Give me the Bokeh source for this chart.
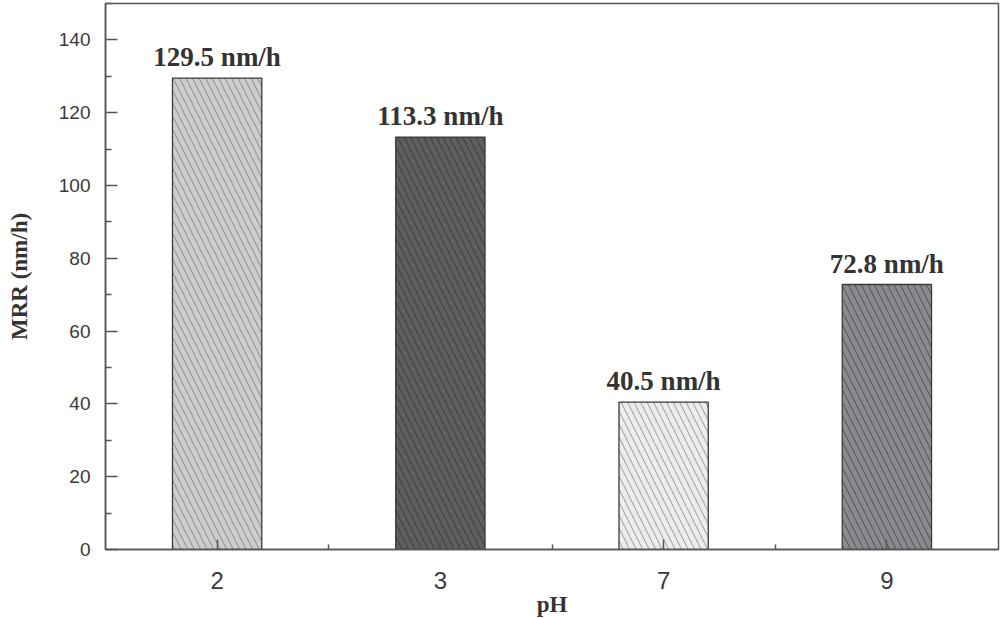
from bokeh.plotting import figure
from bokeh.models import ColumnDataSource, FixedTicker, Range1d
from bokeh.core.properties import value
from bokeh.embed import file_html
from bokeh.resources import INLINE

categories = ["2", "3", "7", "9"]
mrr = [129.5, 113.3, 40.5, 72.8]
labels = ["129.5 nm/h", "113.3 nm/h", "40.5 nm/h", "72.8 nm/h"]
fill_colors = ["#cdcdcd", "#5e5e5e", "#ececec", "#8b8b8f"]
hatch_colors = ["#8a8a8a", "#3c3c3c", "#9a9a9a", "#505050"]
y_ticks = [0, 20, 40, 60, 80, 100, 120, 140]

xpos = list(range(1, len(categories) + 1))
src = ColumnDataSource(dict(x=xpos, top=mrr, label=labels, fill=fill_colors, hatch=hatch_colors))

p = figure(frame_width=893, frame_height=546, output_backend="svg", toolbar_location=None,
           x_range=Range1d(0.5, len(categories) + 0.5), y_range=Range1d(0, 150),
           min_border_left=105, min_border_right=2, min_border_top=3, min_border_bottom=66)

p.vbar(x="x", top="top", width=0.4, bottom=0, source=src, fill_color="fill",
       line_color="#3a3a3a", line_width=1.3, hatch_pattern="\\", hatch_color="hatch",
       hatch_scale=13, hatch_weight=1)

p.text(x="x", y="top", text="label", source=src, text_align="center", text_baseline="bottom",
       y_offset=-6, text_font=value("Liberation Serif"), text_font_style="bold",
       text_font_size="27px", text_color="#333333")

p.xgrid.visible = False
p.ygrid.visible = False
p.outline_line_color = "#555555"
p.outline_line_width = 1.5

p.xaxis.ticker = FixedTicker(ticks=xpos, minor_ticks=[i + 0.5 for i in xpos[:-1]])
p.xaxis.major_label_overrides = {x: c for x, c in zip(xpos, categories)}
p.yaxis.ticker = FixedTicker(ticks=y_ticks, minor_ticks=[t + 10 for t in y_ticks])

for ax in (p.xaxis[0], p.yaxis[0]):
    ax.axis_line_color = "#555555"
    ax.axis_line_width = 1.5
    ax.major_tick_line_color = "#555555"
    ax.minor_tick_line_color = "#555555"
    ax.major_tick_line_width = 1.5
    ax.minor_tick_line_width = 1.5
    ax.major_tick_out = 0
    ax.minor_tick_out = 0
    ax.major_label_text_font = "Liberation Sans"
    ax.major_label_text_color = "#3a3a3a"
    ax.axis_label_text_font = "Liberation Serif"
    ax.axis_label_text_font_style = "bold"
    ax.axis_label_text_font_size = "23px"
    ax.axis_label_text_color = "#333333"

p.xaxis.major_tick_in = 10
p.xaxis.minor_tick_in = 5
p.yaxis.major_tick_in = 12
p.yaxis.minor_tick_in = 6
p.xaxis.major_label_text_font_size = "24px"
p.yaxis.major_label_text_font_size = "19px"
p.xaxis.major_label_standoff = 22
p.yaxis.major_label_standoff = 15
p.xaxis.axis_label = "pH"
p.yaxis.axis_label = "MRR (nm/h)"
p.xaxis.axis_label_standoff = 0
p.yaxis.axis_label_standoff = 24

open("out.html", "w").write(file_html(p, INLINE))
